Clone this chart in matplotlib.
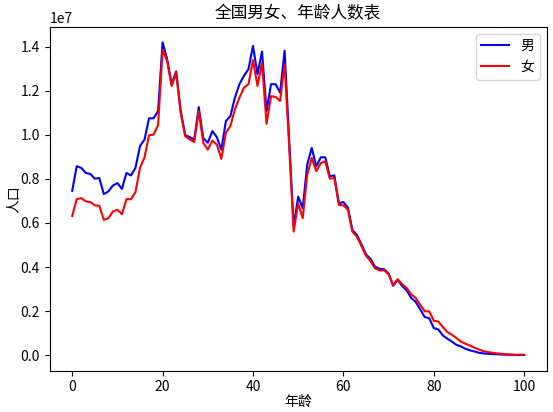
import numpy as np
import matplotlib
matplotlib.use("Agg")
import matplotlib.pyplot as plt

# ---------------------------------------------------------
# DATA (population by age, units of 1e7)
# ---------------------------------------------------------
ages = list(range(0, 101))

male = [
    0.746, 0.858, 0.850, 0.827, 0.823, 0.801, 0.804, 0.731, 0.743, 0.770,
    0.781, 0.755, 0.827, 0.816, 0.850, 0.949, 0.979, 1.075, 1.075, 1.108,
    1.420, 1.344, 1.230, 1.288, 1.110, 0.999, 0.990, 0.979, 1.126, 0.986,
    0.964, 1.017, 0.990, 0.933, 1.062, 1.085, 1.169, 1.230, 1.268, 1.298,
    1.404, 1.275, 1.378, 1.108, 1.230, 1.230, 1.192, 1.382, 0.980, 0.584,
    0.720, 0.667, 0.865, 0.941, 0.857, 0.898, 0.898, 0.812, 0.816, 0.690,
    0.695, 0.670, 0.568, 0.546, 0.503, 0.458, 0.437, 0.402, 0.392, 0.390,
    0.371, 0.315, 0.342, 0.314, 0.294, 0.260, 0.242, 0.208, 0.173, 0.168,
    0.123, 0.117, 0.090, 0.075, 0.062, 0.047, 0.040, 0.029, 0.022, 0.017,
    0.011, 0.008, 0.006, 0.005, 0.004, 0.003, 0.002, 0.002, 0.001, 0.001,
    0.001,
]

female = [
    0.632, 0.708, 0.713, 0.698, 0.695, 0.680, 0.678, 0.614, 0.622, 0.652,
    0.660, 0.640, 0.708, 0.708, 0.740, 0.850, 0.898, 0.998, 1.001, 1.044,
    1.385, 1.336, 1.222, 1.283, 1.100, 0.994, 0.979, 0.968, 1.108, 0.964,
    0.933, 0.974, 0.956, 0.891, 1.009, 1.040, 1.116, 1.169, 1.214, 1.230,
    1.339, 1.222, 1.326, 1.050, 1.176, 1.172, 1.154, 1.321, 0.950, 0.561,
    0.690, 0.622, 0.819, 0.895, 0.835, 0.872, 0.880, 0.801, 0.804, 0.682,
    0.680, 0.660, 0.561, 0.538, 0.495, 0.452, 0.427, 0.394, 0.385, 0.385,
    0.367, 0.318, 0.345, 0.322, 0.305, 0.276, 0.260, 0.229, 0.199, 0.199,
    0.156, 0.153, 0.128, 0.105, 0.093, 0.078, 0.062, 0.052, 0.044, 0.034,
    0.026, 0.018, 0.014, 0.011, 0.008, 0.006, 0.004, 0.003, 0.002, 0.002,
    0.002,
]

title = "全国男女、年龄人数表"
x_label = "年龄"
y_label = "人口"
labels = ["男", "女"]

plt.rcParams['font.family'] = ['Noto Sans CJK SC', 'DejaVu Sans']
plt.rcParams['axes.unicode_minus'] = False

fig = plt.figure(figsize=(5.53, 4.12), dpi=100)
ax = fig.add_axes([0.0897, 0.1005, 0.899, 0.8347])

ax.plot(ages, np.array(male) * 1e7, color='blue', label=labels[0])
ax.plot(ages, np.array(female) * 1e7, color='red', label=labels[1])

ax.set_title(title, fontsize=12)
ax.set_xlabel(x_label, labelpad=0)
ax.set_ylabel(y_label, labelpad=-1)
ax.legend(loc='upper right')

fig.savefig("out.png", dpi=100)
